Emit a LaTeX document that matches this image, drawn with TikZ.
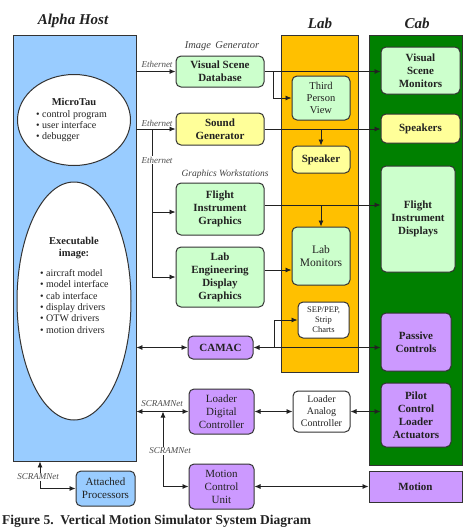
\documentclass[tikz,border=0pt]{standalone}
\usepackage{fontspec}
\setmainfont{Liberation Serif}
\usetikzlibrary{shapes.geometric,arrows.meta,calc}
\definecolor{hostblue}{HTML}{99CCFF}
\definecolor{labor}{HTML}{FFC000}
\definecolor{cabgr}{HTML}{008000}
\definecolor{lgreen}{HTML}{CCFFCC}
\definecolor{lyellow}{HTML}{FFFF99}
\definecolor{lpurple}{HTML}{CC99FF}
\definecolor{edgec}{HTML}{333333}
\definecolor{txt}{HTML}{222222}
\begin{document}
\begin{tikzpicture}[x=1pt,y=-1pt,
  region/.style={draw=edgec, line width=0.8pt, inner sep=0pt},
  box/.style={draw=edgec, line width=1pt, rounded corners=5pt, align=center, inner sep=1pt,
    font=\fontsize{11}{13}\selectfont\bfseries, text=txt},
  gbox/.style={box, fill=lgreen},
  ybox/.style={box, fill=lyellow},
  pbox/.style={box, fill=lpurple},
  wbox/.style={box, fill=white},
  bbox/.style={box, fill=hostblue},
  plain/.style={font=\fontsize{11}{13}\selectfont\mdseries},
  arr/.style={-{Latex[length=6pt,width=5pt]}, line width=0.8pt, draw=txt},
  darr/.style={{Latex[length=6pt,width=5pt]}-{Latex[length=6pt,width=5pt]}, line width=0.8pt, draw=txt},
  ln/.style={line width=0.8pt, draw=txt},
  elab/.style={font=\fontsize{9}{10}\selectfont\itshape, text=black!70, inner sep=1pt},
  title/.style={font=\fontsize{15}{17}\selectfont\bfseries\itshape, text=txt},
  glab/.style={font=\fontsize{10.5}{12}\selectfont\itshape, text=black!75, inner sep=1pt},
  ell/.style={draw=edgec, line width=1pt, fill=white, ellipse, inner sep=0pt},
  etext/.style={font=\fontsize{10}{11.4}\selectfont, text=txt, align=left, inner sep=0pt}
]
\useasboundingbox (0,0) rectangle (474,528);

% titles
\node[title] (tah) at (73,21) {Alpha Host};
\node[title] (tlab) at (320,23) {Lab};
\node[title] (tcab) at (417,23) {Cab};
\node[glab] (tig) at (222,46) {Image\, Generator};
\node[glab, font=\fontsize{9.5}{11}\selectfont\itshape] (tgw) at (225,174) {Graphics Workstations};

% regions
\node[region, fill=hostblue, minimum width=123pt, minimum height=426pt] (alpha) at (74.5,248) {};
\node[region, fill=labor, minimum width=77pt, minimum height=337pt] (lab) at (319.5,203.5) {};
\node[region, fill=cabgr, minimum width=93pt, minimum height=430pt] (cab) at (415.5,250) {};

% ellipses
\node[ell, minimum width=113pt, minimum height=91pt] (mt) at (74,120) {};
\node[font=\fontsize{10.5}{12}\selectfont\bfseries, text=txt] (mtt) at (74,102) {MicroTau};
\node[etext, anchor=north west] (mtl) at (36,110) {• control program\\• user interface\\• debugger};
\node[ell, minimum width=114pt, minimum height=238pt] (ex) at (74,301) {};
\node[font=\fontsize{10.5}{11.5}\selectfont\bfseries, text=txt, align=center] (ext) at (74,248) {Executable\\image:};
\node[etext, anchor=north west] (exl) at (40,269) {• aircraft model\\• model interface\\• cab interface\\• display drivers\\• OTW drivers\\• motion drivers};

% boxes
\node[gbox, minimum width=88pt, minimum height=31pt] (vsd) at (220,71.5) {Visual Scene\\Database};
\node[ybox, minimum width=88pt, minimum height=32pt] (sg) at (220,129) {Sound\\Generator};
\node[gbox, minimum width=88pt, minimum height=52pt] (fig) at (220,209) {Flight\\Instrument\\Graphics};
\node[gbox, minimum width=88pt, minimum height=60pt] (led) at (220,277) {Lab\\Engineering\\Display\\Graphics};
\node[gbox, minimum width=79pt, minimum height=47pt] (vsm) at (420.5,70.5) {Visual\\Scene\\Monitors};
\node[gbox, minimum width=58pt, minimum height=44pt, font=\fontsize{10.5}{12}\selectfont\mdseries] (tpv) at (321,98) {Third\\Person\\View};
\node[ybox, minimum width=79pt, minimum height=29pt] (spk) at (420.5,128.5) {Speakers};
\node[ybox, minimum width=58pt, minimum height=27pt] (spkl) at (321,159.5) {Speaker};
\node[gbox, minimum width=74pt, minimum height=106pt] (fid) at (418,219) {Flight\\Instrument\\Displays};
\node[gbox, minimum width=58pt, minimum height=58pt, font=\fontsize{11.5}{13}\selectfont\mdseries] (lm) at (321,256) {Lab\\Monitors};
\node[wbox, minimum width=51pt, minimum height=36pt, font=\fontsize{8.5}{10}\selectfont\mdseries] (sep) at (323.5,320) {SEP/PEP,\\Strip\\Charts};
\node[pbox, minimum width=70pt, minimum height=58pt] (pc) at (416,342) {Passive\\Controls};
\node[pbox, minimum width=70pt, minimum height=64pt] (pcla) at (416,415) {Pilot\\Control\\Loader\\Actuators};
\node[pbox, rounded corners=0pt, minimum width=93pt, minimum height=31pt] (mot) at (415.5,486.5) {Motion};
\node[pbox, minimum width=65pt, minimum height=23pt] (camac) at (220.5,347.5) {CAMAC};
\node[pbox, plain, minimum width=65pt, minimum height=45pt] (ldc) at (221.5,411.5) {Loader\\Digital\\Controller};
\node[wbox, minimum width=57pt, minimum height=41pt, font=\fontsize{10}{12}\selectfont\mdseries] (lac) at (321.5,411.5) {Loader\\Analog\\Controller};
\node[pbox, plain, minimum width=65pt, minimum height=45pt] (mcu) at (221.5,486.5) {Motion\\Control\\Unit};
\node[bbox, plain, minimum width=59pt, minimum height=35pt] (ap) at (105.5,488.5) {Attached\\Processors};

% connectors
\draw[arr] (alpha.east |- vsd.west) -- (vsd.west);
\node[elab] (e1) at (157,64) {Ethernet};
\draw[arr] (vsd.east) -- (vsm.west |- vsd.east);
\draw[arr] ($(vsd.east)+(9,0)$) |- (tpv.west);

\draw[arr] (alpha.east |- sg.west) -- (sg.west);
\node[elab] (e2) at (157,123) {Ethernet};
\draw[arr] (sg.east) -- (spk.west |- sg.east);
\draw[arr] (spkl.north |- sg.east) -- (spkl.north);

\coordinate (eb) at (152,129);
\draw[ln] (eb) -- (eb |- led.west);
\node[elab, fill=white] (e3) at (157,160) {Ethernet};
\draw[arr] (eb |- 0,212) -- (fig.west |- 0,212);
\draw[arr] (eb |- led.west) -- (led.west);

\draw[arr] (fig.east |- 0,205) -- (fid.west |- 0,205);
\draw[arr] (lm.north |- 0,205) -- (lm.north);
\draw[arr] (led.east |- 0,270) -- (lm.west |- 0,270);

\draw[darr] (alpha.east |- camac.west) -- (camac.west);
\draw[darr] (camac.east) -- (pc.west |- camac.east);
\draw[arr] ($(camac.east)+(21,0)$) |- (sep.west);

\draw[darr] (alpha.east |- ldc.west) -- (ldc.west);
\node[elab] (s1) at (162,404) {SCRAMNet};
\coordinate (s2) at (163,486.5);
\draw[arr] (s2) -- (s2 |- ldc.west);
\node[elab, fill=white] (s2l) at (170,451) {SCRAMNet};
\draw[arr] (s2) -- (mcu.west);

\draw[darr] (ldc.east) -- (lac.west);
\draw[darr] (lac.east) -- (pcla.west |- lac.east);
\draw[darr] (mcu.east) -- (mot.west);

\coordinate (s3) at (40,488.5);
\draw[arr] (s3) -- (s3 |- alpha.south);
\node[elab, fill=white] (s3l) at (38,477) {SCRAMNet};
\draw[arr] (s3) -- (ap.west);

% caption
\node[anchor=base west, font=\fontsize{13.5}{16}\selectfont\bfseries, inner sep=0pt, text=txt] (cap) at (2,524.5) {Figure 5.\ \ Vertical Motion Simulator System Diagram};
\end{tikzpicture}
\end{document}
